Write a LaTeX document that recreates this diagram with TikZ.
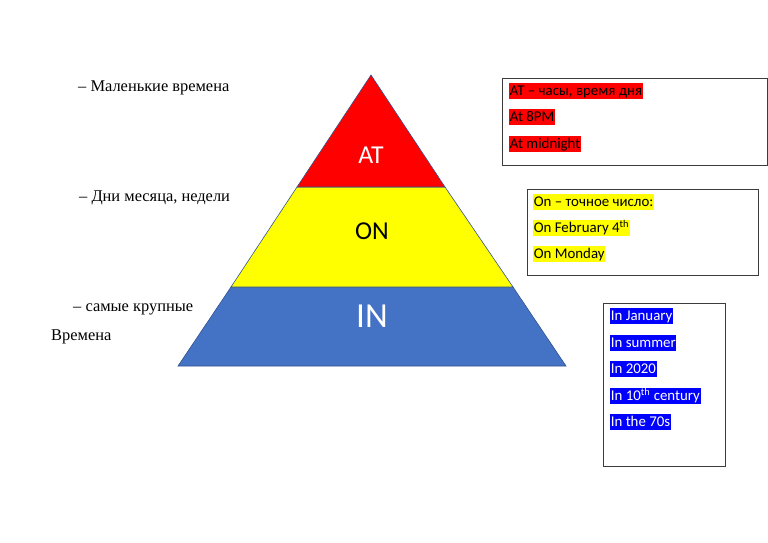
\documentclass[tikz,border=0pt]{standalone}
\usepackage{fontspec}
\setmainfont{Liberation Serif}
\newfontfamily\boxfont{Carlito}
\usetikzlibrary{positioning}
\definecolor{atred}{RGB}{255,0,0}
\definecolor{onyellow}{RGB}{255,255,0}
\definecolor{inblue}{RGB}{68,114,196}
\definecolor{edgeblue}{RGB}{47,82,143}
\definecolor{markblue}{RGB}{0,0,255}
\definecolor{boxgray}{RGB}{60,60,60}
\tikzset{
  mark line/.style={anchor=west, inner xsep=0.5pt, inner ysep=0pt,
    text height=10.4pt, text depth=3.3pt, font=\boxfont\fontsize{12.7}{14}\selectfont},
  red line/.style={mark line, fill=atred},
  yellow line/.style={mark line, fill=onyellow},
  blue line/.style={mark line, fill=markblue, text=white},
  frame/.style={draw=boxgray, line width=0.8pt},
  side note/.style={anchor=west, inner sep=0pt, font=\fontsize{14}{16}\selectfont},
  layer label/.style={font=\boxfont\fontsize{#1}{#1}\selectfont}
}

\begin{document}
\begin{tikzpicture}[x=0.03cm, y=-0.03cm]
  \useasboundingbox (0,0) rectangle (768,543);
  \coordinate (apex) at (371,75);
  \coordinate (topL) at (297,187);
  \coordinate (topR) at (445,187);
  \coordinate (midL) at (231,287);
  \coordinate (midR) at (513,287);
  \coordinate (baseL) at (178,366);
  \coordinate (baseR) at (566,366);
  \filldraw[fill=inblue, draw=edgeblue, line width=0.5pt] (midL) -- (midR) -- (baseR) -- (baseL) -- cycle;
  \filldraw[fill=onyellow, draw=edgeblue, line width=0.5pt] (topL) -- (topR) -- (midR) -- (midL) -- cycle;
  \filldraw[fill=atred, draw=edgeblue, line width=0.5pt] (apex) -- (topR) -- (topL) -- cycle;
  \node[layer label=22, text=white] (at) at (371,155) {AT};
  \node[layer label=22] (on) at (372,231) {ON};
  \node[layer label=30, text=white] (in) at (372,316) {IN};

  \node[side note] (small) at (78,88) {– Маленькие времена};
  \node[side note] (days) at (79,198) {– Дни месяца, недели};
  \node[side note] (big) at (73,309) {– самые крупные};
  \node[side note] (bigtwo) at (51,337) {Времена};

  \draw[frame] (502,78) rectangle (767,165);
  \node[red line] (at1) at (509,91) {AT – часы, время дня};
  \node[red line] (at2) at (509,117) {At 8PM};
  \node[red line] (at3) at (509,144) {At midnight};

  \draw[frame] (527,189) rectangle (758,275);
  \node[yellow line] (on1) at (533,202) {On – точное число:};
  \node[yellow line] (on2) at (533,228) {On February 4\textsuperscript{th}};
  \node[yellow line] (on3) at (533,254) {On Monday};

  \draw[frame] (603,303) rectangle (725,466);
  \node[blue line] (in1) at (610,316) {In January};
  \node[blue line] (in2) at (610,343) {In summer};
  \node[blue line] (in3) at (610,369) {In 2020};
  \node[blue line] (in4) at (610,396) {In 10\textsuperscript{th} century};
  \node[blue line] (in5) at (610,422) {In the 70s};
\end{tikzpicture}
\end{document}
